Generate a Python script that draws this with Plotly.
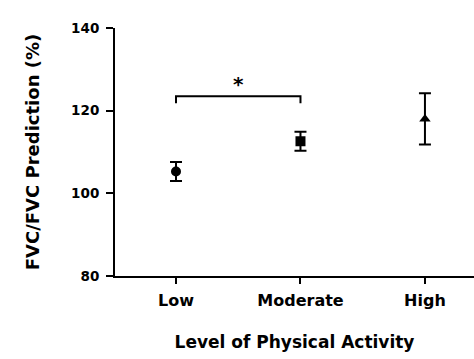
import plotly.graph_objects as go

categories = ["Low", "Moderate", "High"]
means = [105.3, 112.6, 118.0]
errors = [2.3, 2.3, 6.2]
symbols = ["circle", "square", "triangle-up"]
y_ticks = [80, 100, 120, 140]
bracket_top = 123.5
bracket_foot = 121.8

FONT = "DejaVu Sans, Arial, sans-serif"
xs = list(range(len(categories)))

fig = go.Figure()
for i in xs:
    fig.add_trace(go.Scatter(
        x=[xs[i]], y=[means[i]], mode="markers",
        marker=dict(symbol=symbols[i], size=10, color="black"),
        error_y=dict(type="data", array=[errors[i]], visible=True,
                     color="black", thickness=2, width=6),
        showlegend=False, hoverinfo="skip"))

# significance bracket between Low and Moderate
fig.add_trace(go.Scatter(
    x=[xs[0], xs[0], xs[1], xs[1]],
    y=[bracket_foot, bracket_top, bracket_top, bracket_foot],
    mode="lines", line=dict(color="black", width=2),
    showlegend=False, hoverinfo="skip"))
fig.add_annotation(x=(xs[0] + xs[1]) / 2, y=bracket_top, text="<b>*</b>",
                   showarrow=False, yanchor="bottom", yshift=-2,
                   font=dict(family=FONT, size=20, color="black"))

fig.update_layout(
    width=474, height=359,
    margin=dict(l=115, r=0, t=28, b=83),
    paper_bgcolor="white", plot_bgcolor="white",
    font=dict(family=FONT, color="black"),
    xaxis=dict(range=[-0.49, 2.394], tickvals=xs, ticktext=categories,
               automargin=False,
               showline=True, linecolor="black", linewidth=2,
               ticks="outside", ticklen=6, tickwidth=2, tickcolor="black",
               ticklabelstandoff=3,
               showgrid=False, zeroline=False,
               tickfont=dict(family=FONT, size=16, color="black", weight="bold"),
               title=dict(text="<b>Level of Physical Activity</b>",
                          font=dict(family=FONT, size=17, color="black"),
                          standoff=27)),
    yaxis=dict(range=[80, 140], tickvals=y_ticks, automargin=False,
               showline=True, linecolor="black", linewidth=2,
               ticks="outside", ticklen=7, tickwidth=2, tickcolor="black",
               ticklabelstandoff=4,
               showgrid=False, zeroline=False,
               tickfont=dict(family=FONT, size=13.5, color="black", weight="bold"),
               title=dict(text="<b>FVC/FVC Prediction (%)</b>",
                          font=dict(family=FONT, size=18, color="black"),
                          standoff=27)),
)

fig.write_html(
    "out.html",
    config={"displayModeBar": False},
    post_script="document.body.style.margin='0';document.body.style.overflow='hidden';",
)
